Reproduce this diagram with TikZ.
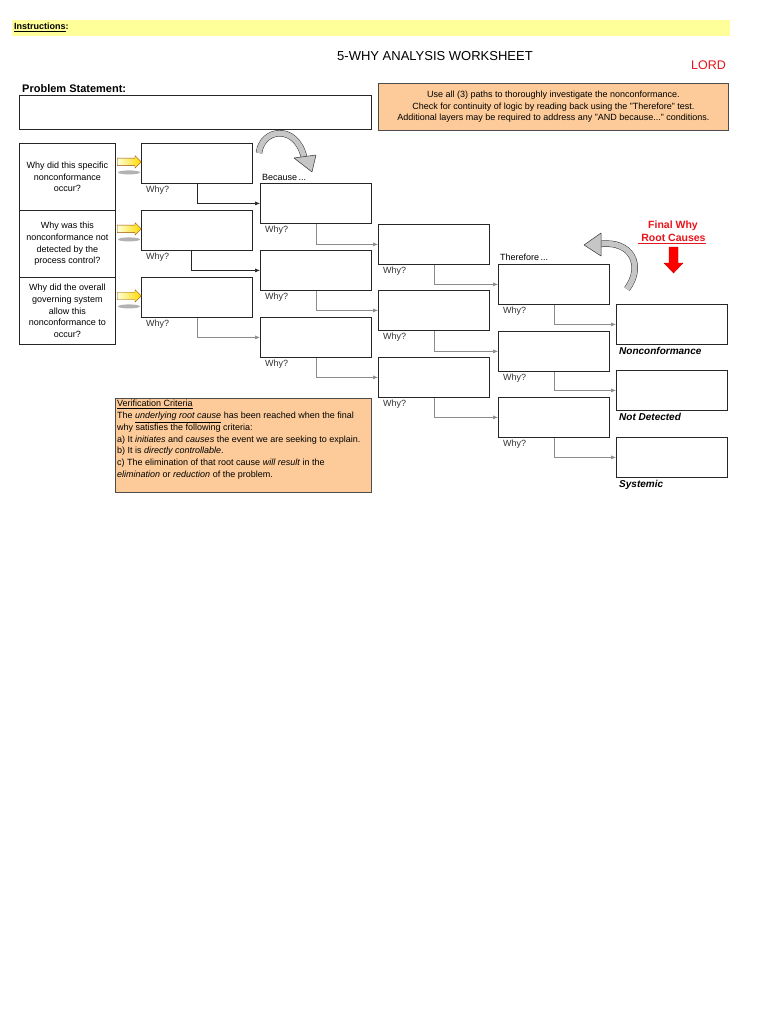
\documentclass[tikz,border=0pt]{standalone}
\usepackage{fontspec}
\setmainfont{Liberation Sans}
\usetikzlibrary{shapes.arrows,arrows.meta,calc}
\definecolor{orfill}{HTML}{FCCB99}
\definecolor{yband}{HTML}{FFFF99}
\definecolor{rootred}{HTML}{E8141B}
\begin{document}
\begin{tikzpicture}[x=1pt,y=-1pt,
  box/.style={draw=black!85, line width=0.8pt, minimum width=111pt, minimum height=40pt, inner sep=0pt, anchor=north west},
  qbox/.style={draw=black!85, line width=0.8pt, minimum width=96pt, minimum height=67pt, inner sep=0pt, anchor=north west, align=center, font=\fontsize{9}{11.8}\selectfont},
  whylbl/.style={font=\fontsize{9}{10}\selectfont, text=black!80, anchor=west, inner sep=0pt},
  conn/.style={line width=0.6pt, draw=black!85, -{Latex[length=5pt,width=4pt]}},
  conng/.style={conn, draw=black!45},
  yarrow/.style={single arrow, draw=orange!60!black, line width=0.3pt, shading=axis, left color=yellow!15, right color=yellow!70!orange, shading angle=90, minimum height=24pt, inner sep=3.6pt, single arrow head extend=2.5pt, anchor=east},
  curvebody/.style={double=gray!45, double distance=5.5pt, line width=0.5pt, draw=gray!40!black},
  curvehead/.style={fill=gray!45, draw=gray!40!black, line width=0.5pt, line join=round},
  rootlbl/.style={font=\fontsize{10}{12}\bfseries\itshape\selectfont, anchor=west, inner sep=0pt},
  small/.style={font=\fontsize{9}{10}\selectfont, inner sep=0pt}
]
\useasboundingbox[fill=white] (0,0) rectangle (768,1024);

% instructions band
\fill[yband] (12,20) rectangle (730,36);
\node[small, anchor=west, font=\fontsize{9}{10}\bfseries\selectfont] (instr) at (14,27) {\underline{Instructions}:};

% title
\node[font=\fontsize{13}{15}\selectfont, inner sep=0pt] (title) at (435,56.5) {5-WHY ANALYSIS WORKSHEET};
\node[font=\fontsize{12.5}{14}\selectfont, text=rootred, inner sep=0pt, anchor=east] (lord) at (726,65) {LORD};

% problem statement
\node[font=\fontsize{11}{13}\bfseries\selectfont, anchor=west, inner sep=0pt] (pslbl) at (22,88.5) {Problem Statement:};
\node[draw=black!85, line width=0.8pt, minimum width=352pt, minimum height=34pt, anchor=north west, inner sep=0pt] (ps) at (19,95) {};

\node[draw=black!70, line width=0.8pt, fill=orfill, minimum width=350pt, minimum height=47pt, anchor=north west, inner sep=0pt, align=center, font=\fontsize{9}{11.5}\selectfont] (note) at (378,83)
 {Use all (3) paths to thoroughly investigate the nonconformance.\\
  Check for continuity of logic by reading back using the "Therefore" test.\\
  Additional layers may be required to address any "AND because..." conditions.};

% question column
\node[qbox] (q1) at (19,143) {Why did this specific\\nonconformance\\occur?};
\node[qbox] (q2) at (19,210) {Why was this\\nonconformance not\\detected by the\\process control?};
\node[qbox] (q3) at (19,277) {Why did the overall\\governing system\\allow this\\nonconformance to\\occur?};

% boxes
\node[box] (a1) at (141,143) {};
\node[box] (a2) at (141,210) {};
\node[box] (a3) at (141,277) {};
\node[box] (b1) at (260,183) {};
\node[box] (b2) at (260,250) {};
\node[box] (b3) at (260,317) {};
\node[box] (c1) at (378,224) {};
\node[box] (c2) at (378,290) {};
\node[box] (c3) at (378,357) {};
\node[box] (d1) at (498,264) {};
\node[box] (d2) at (498,331) {};
\node[box] (d3) at (498,397) {};
\node[box] (e1) at (616,304) {};
\node[box] (e2) at (616,370) {};
\node[box] (e3) at (616,437) {};

% yellow arrows with shadows
\foreach \r in {1,2,3}{
  \fill[black!30] ($(a\r.west)+(-12,9)$) ellipse (11pt and 2pt);
  \node[yarrow] (ya\r) at ($(a\r.west)+(0.5,-1.5)$) {};
}

% why labels
\foreach \n in {a1,a2,a3,b1,b2,b3,c1,c2,c3,d1,d2,d3}{
  \node[whylbl] (w\n) at ($(\n.south west)+(5,6)$) {Why?};
}

% connectors
\draw[conn] (a1.south) |- (b1.west);
\draw[conn] ($(a2.south)+(-6,0)$) |- (b2.west);
\draw[conng] (a3.south) |- (b3.west);
\draw[conng] (b1.south) |- (c1.west);
\draw[conng] (b2.south) |- (c2.west);
\draw[conng] (b3.south) |- (c3.west);
\draw[conng] (c1.south) |- (d1.west);
\draw[conng] (c2.south) |- (d2.west);
\draw[conng] (c3.south) |- (d3.west);
\draw[conng] (d1.south) |- (e1.west);
\draw[conng] (d2.south) |- (e2.west);
\draw[conng] (d3.south) |- (e3.west);

% because / therefore
\node[small, anchor=west] (because) at (262,177) {Because\,...};
\node[small, anchor=west] (therefore) at (500,257) {Therefore\,...};

% curved arrow 1
\draw[curvebody] (259,153) .. controls (262,128) and (296,124) .. (304,157);
\draw[curvehead] (294,158) -- (316,155) -- (312,172) -- cycle;
% curved arrow 2
\draw[curvebody] (627,289) .. controls (644,266) and (632,240) .. (600,244);
\draw[curvehead] (601,233) -- (601,256) -- (584,245) -- cycle;

% final why
\node[font=\fontsize{10.5}{12}\bfseries\selectfont, text=rootred, inner sep=0pt] (fw) at (673,226) {Final Why};
\node[font=\fontsize{10.5}{12}\bfseries\selectfont, text=rootred, inner sep=0pt] (rc) at (672,239) {\underline{\ Root Causes}};
\filldraw[fill=red, draw=red!70!black, line width=0.4pt] (669,247) -- (678,247) -- (678,263) -- (683,263) -- (673.5,273) -- (664,263) -- (669,263) -- cycle;

% root labels
\node[rootlbl] (l1) at ($(e1.south west)+(3,6)$) {Nonconformance};
\node[rootlbl] (l2) at ($(e2.south west)+(3,6)$) {Not Detected};
\node[rootlbl] (l3) at ($(e3.south west)+(3,7)$) {Systemic};

% verification
\node[draw=black!70, line width=0.8pt, fill=orfill, minimum width=256pt, minimum height=94pt, anchor=north west, inner sep=0pt] (ver) at (115,398) {};
\node[anchor=north west, inner sep=0pt, align=left, font=\fontsize{9}{11.8}\selectfont] (vtext) at (117,400)
 {\underline{Verification Criteria}\\
  The \underline{\itshape underlying root cause} has been reached when the final\\
  why satisfies the following criteria:\\
  a) It \textit{initiates} and \textit{causes} the event we are seeking to explain.\\
  b) It is \textit{directly controllable}.\\
  c) The elimination of that root cause \textit{will result} in the\\
  \textit{elimination} or \textit{reduction} of the problem.};
\end{tikzpicture}
\end{document}
